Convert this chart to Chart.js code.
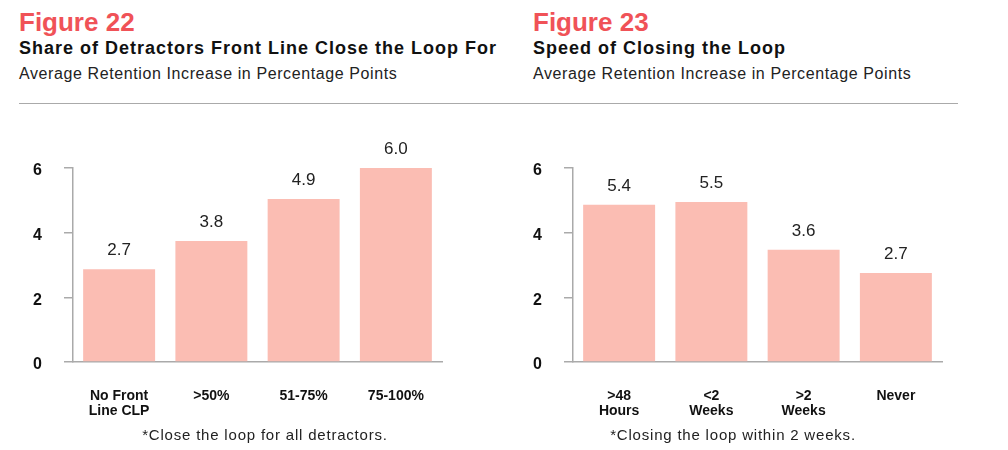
<!DOCTYPE html>
<html>
<head>
<meta charset="utf-8">
<script src="https://cdn.jsdelivr.net/npm/chart.js@4/dist/chart.umd.min.js"></script>
<style>
  body { margin: 0; background: #fff; font-family: "Liberation Sans", Arial, sans-serif; }
  #page { position: relative; width: 1008px; height: 450px; overflow: hidden; }
  .fig { position: absolute; color: #f05257; font-weight: bold; font-size: 26px; line-height: 1; }
  .sub { position: absolute; color: #111; font-weight: bold; font-size: 18px; line-height: 1; letter-spacing: 1px; }
  .desc { position: absolute; color: #222; font-size: 16px; line-height: 1; letter-spacing: 0.6px; }
  .note { position: absolute; color: #222; font-size: 15px; line-height: 1; letter-spacing: 0.8px; transform: translateX(-50%); white-space: nowrap; }
  #rule { position: absolute; left: 19px; top: 103px; width: 939px; height: 0; border-top: 1.5px solid #aaa; }
  canvas { position: absolute; }
</style>
</head>
<body>
<div id="page">
  <div class="fig" style="left:19px; top:9px;">Figure 22</div>
  <div class="sub" style="left:19px; top:39px;">Share of Detractors Front Line Close the Loop For</div>
  <div class="desc" style="left:19px; top:66px;">Average Retention Increase in Percentage Points</div>

  <div class="fig" style="left:533px; top:9px;">Figure 23</div>
  <div class="sub" style="left:533px; top:39px;">Speed of Closing the Loop</div>
  <div class="desc" style="left:533px; top:66px;">Average Retention Increase in Percentage Points</div>

  <div id="rule"></div>

  <div style="position:absolute; left:0; top:120px; width:500px; height:330px;"><canvas id="leftChart"></canvas></div>
  <div style="position:absolute; left:500px; top:120px; width:500px; height:330px;"><canvas id="rightChart"></canvas></div>

  <div class="note" style="left:265px; top:427px;">*Close the loop for all detractors.</div>
  <div class="note" style="left:733px; top:427px;">*Closing the loop within 2 weeks.</div>
</div>

<script>
// Figure 22 data
const leftCategories = [["No Front", "Line CLP"], ">50%", "51-75%", "75-100%"];
const leftValues = [2.87, 3.74, 5.04, 6.0];
const leftValueLabels = ["2.7", "3.8", "4.9", "6.0"];

// Figure 23 data
const rightCategories = [[">48", "Hours"], ["<2", "Weeks"], [">2", "Weeks"], "Never"];
const rightValues = [4.86, 4.95, 3.47, 2.75];
const rightValueLabels = ["5.4", "5.5", "3.6", "2.7"];

// shared y axis
const yMin = 0;
const yMax = 6;
const yStep = 2;

const barColor = "#fbbdb3";
const axisColor = "#aaaaaa";

// draws the printed number above each bar
const valueLabelPlugin = {
  id: "valueLabels",
  afterDatasetsDraw(chart, args, opts) {
    const ctx = chart.ctx;
    const meta = chart.getDatasetMeta(0);
    ctx.save();
    ctx.font = "17px 'Liberation Sans', Arial, sans-serif";
    ctx.fillStyle = "#222";
    ctx.textAlign = "center";
    ctx.textBaseline = "bottom";
    meta.data.forEach((bar, i) => {
      ctx.fillText(opts.labels[i], bar.x, bar.y - 10);
    });
    ctx.restore();
  }
};

function makeChart(id, categories, values, valueLabels) {
  const ctx = document.getElementById(id).getContext("2d");
  return new Chart(ctx, {
    type: "bar",
    data: {
      labels: categories,
      datasets: [
        {
          data: values,
          backgroundColor: barColor,
          borderWidth: 0,
          barPercentage: 0.78,
          categoryPercentage: 1.0,
        },
      ],
    },
    options: {
      responsive: true,
      maintainAspectRatio: false,
      animation: false,
      layout: { padding: { top: 48, right: 58, bottom: 0, left: 0 } },
      plugins: {
        legend: { display: false },
        tooltip: { enabled: false },
        valueLabels: { labels: valueLabels },
      },
      scales: {
        x: {
          grid: { display: false, drawTicks: false },
          border: { display: true, color: axisColor, width: 1.5 },
          ticks: {
            color: "#111",
            padding: 27,
            maxRotation: 0,
            autoSkip: false,
            font: { family: "'Liberation Sans', Arial, sans-serif", size: 14, weight: "bold", lineHeight: 1.05 },
          },
          afterFit(scale) { scale.height = 88; },
        },
        y: {
          min: yMin,
          max: yMax,
          grid: { display: true, drawOnChartArea: false, drawTicks: true, tickLength: 9, color: axisColor, lineWidth: 1.5 },
          border: { display: true, color: axisColor, width: 1.5 },
          ticks: {
            stepSize: yStep,
            color: "#111",
            padding: 22,
            labelOffset: 3,
            font: { family: "'Liberation Sans', Arial, sans-serif", size: 16, weight: "bold" },
          },
          afterFit(scale) { scale.width = 73; },
        },
      },
    },
    plugins: [valueLabelPlugin],
  });
}

document.addEventListener("DOMContentLoaded", function () {
  makeChart("leftChart", leftCategories, leftValues, leftValueLabels);
  makeChart("rightChart", rightCategories, rightValues, rightValueLabels);
});
</script>
</body>
</html>
